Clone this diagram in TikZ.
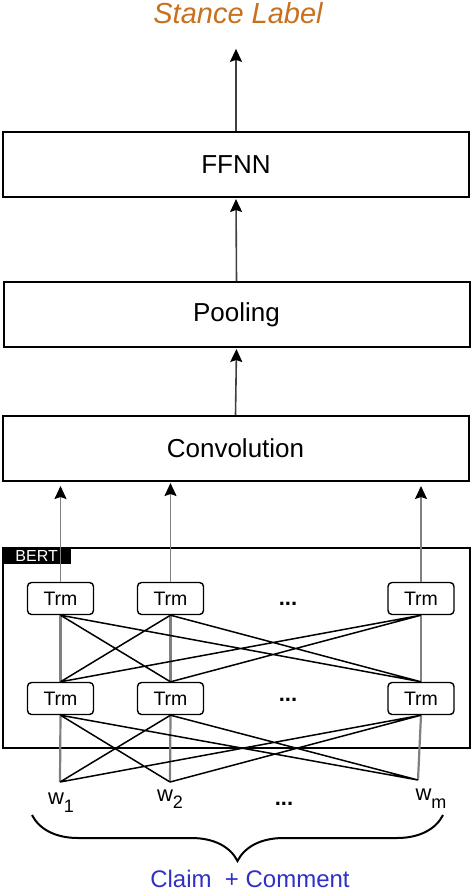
\documentclass[tikz,border=0pt]{standalone}
\usepackage{fontspec}
\setmainfont{Liberation Sans}
\usetikzlibrary{arrows.meta, positioning, decorations.pathreplacing}
\definecolor{stanceorange}{HTML}{C8701E}
\definecolor{inputblue}{HTML}{3030C8}
\definecolor{linkgray}{HTML}{808080}
\newcommand{\wsub}[2]{w\raisebox{#2}{\fontsize{18}{18}\selectfont #1}}

\begin{document}
\begin{tikzpicture}[x=1pt, y=-1pt,
  layer/.style={draw=black, line width=2pt, minimum width=466pt, minimum height=65pt, inner sep=0pt, font=\fontsize{26}{30}\selectfont},
  trm/.style={draw=black, line width=1.4pt, rounded corners=4pt, minimum width=66pt, minimum height=32pt, inner sep=0pt, font=\fontsize{19.5}{22}\selectfont},
  uparrow/.style={-{Stealth[width=12pt, length=13pt, inset=2pt, color=black]}, line width=1.6pt, draw=black!75},
  link/.style={line width=1.5pt, draw=black},
  vlink/.style={line width=2.2pt, draw=linkgray},
  dots/.style={font=\bfseries\fontsize{22}{24}\selectfont, inner sep=0pt},
  word/.style={font=\fontsize{22}{24}\selectfont, inner sep=0pt}]
\useasboundingbox (0,0) rectangle (472,892);
% Output label
\node[font=\fontsize{29}{32}\selectfont\itshape, text=stanceorange, inner sep=0pt] (stance) at (238,13) {Stance Label};
% Layers on top of BERT
\node[layer] (ffnn) at (236,164.5) {FFNN};
\node[layer] (pool) at (236.5,314.5) {Pooling};
\node[layer] (conv) at (235.5,448.5) {Convolution};
\draw[uparrow, shorten >=25pt] (ffnn.north) -- (ffnn.north |- stance.south);
\draw[uparrow, shorten >=1pt] (pool.north) -- (ffnn.south);
\draw[uparrow, shorten >=1pt] (conv.north) -- (pool.south);
% BERT block
\node[draw=black, line width=1.2pt, minimum width=467pt, minimum height=200pt, inner sep=0pt] (bert) at (236.5,648) {};
\node[fill=black, text=white, font=\fontsize{16}{16}\selectfont, minimum width=68pt, minimum height=16pt, inner sep=0pt, anchor=north west] (bertlabel) at (bert.north west) {BERT};
% Top row
\node[trm] (t1) at (60.5,598.5) {Trm};
\node[trm] (t2) at (170.5,598.5) {Trm};
\node[trm] (t3) at (421,598.5) {Trm};
\node[dots] (tdots) at (288,604) {...};
% Bottom row
\node[trm] (b1) at (60.5,698.5) {Trm};
\node[trm] (b2) at (170.5,698.5) {Trm};
\node[trm] (b3) at (421,698.5) {Trm};
\node[dots] (bdots) at (288,700) {...};
% Words
\coordinate (w1) at (60,782);
\coordinate (w2) at (170,782);
\coordinate (w3) at (418,780);
\node[word] (wl1) at (61,803) {\wsub{1}{-8pt}};
\node[word] (wl2) at (170,799) {\wsub{2}{-7pt}};
\node[word] (wl3) at (431,799) {\wsub{m}{-8pt}};
\node[dots] (wdots) at (284,804) {...};
% Trm outputs into convolution
\draw[uparrow, draw=linkgray, shorten >=4pt] (t1.north) -- (t1.north |- conv.south);
\draw[uparrow, draw=linkgray, shorten >=1pt] (t2.north) -- (t2.north |- conv.south);
\draw[uparrow, draw=linkgray, shorten >=4pt] (t3.north) -- (t3.north |- conv.south);
% Links between rows
\draw[vlink] (b1.north) -- (t1.south) (b2.north) -- (t2.south) (b3.north) -- (t3.south);
\draw[link] (b1.north) -- (t2.south) (b1.north) -- (t3.south)
  (b2.north) -- (t1.south) (b2.north) -- (t3.south)
  (b3.north) -- (t1.south) (b3.north) -- (t2.south);
\draw[vlink] (w1) -- (b1.south) (w2) -- (b2.south) (w3) -- (b3.south);
\draw[link] (w1) -- (b2.south) (w1) -- (b3.south)
  (w2) -- (b1.south) (w2) -- (b3.south)
  (w3) -- (b1.south) (w3) -- (b2.south);
% Input brace
\coordinate (braceL) at (32,815);
\coordinate (braceR) at (443,815);
\draw[decorate, decoration={brace, mirror, amplitude=46pt}, line width=2pt] (braceL) -- (braceR);
\node[font=\fontsize{24}{28}\selectfont, text=inputblue, inner sep=0pt] (input) at (250,879) {Claim~~+ Comment};
\end{tikzpicture}
\end{document}
